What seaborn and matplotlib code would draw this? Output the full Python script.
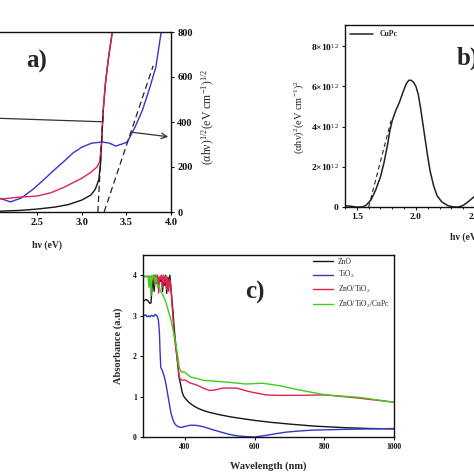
import matplotlib
matplotlib.use("Agg")
import matplotlib.pyplot as plt
import seaborn as sns
import numpy as np

# ---- panel a: Tauc plot (right axis values) ----
ev_zno = [1.5, 1.8, 2.1, 2.3, 2.5, 2.7, 2.85, 3.0, 3.1, 3.15, 3.19, 3.21, 3.24, 3.265, 3.30, 3.34, 3.36]
tauc_zno = [1, 2, 4, 7, 13, 22, 33, 53, 75, 100, 142, 215, 450, 570, 685, 795, 840]

ev_znotio2 = [1.5, 1.8, 2.1, 2.3, 2.5, 2.65, 2.8, 2.9, 3.0, 3.1, 3.17, 3.2, 3.22, 3.24, 3.265, 3.30, 3.34, 3.36]
tauc_znotio2 = [55, 56, 58, 66, 71, 85, 110, 130, 150, 176, 200, 222, 300, 455, 575, 690, 795, 840]

ev_tio2 = [1.5, 1.8, 2.0, 2.09, 2.2, 2.32, 2.45, 2.55, 2.7, 2.8, 2.9, 3.0, 3.11, 3.23, 3.31, 3.38, 3.45, 3.51, 3.6, 3.68, 3.76, 3.83, 3.89, 3.92]
tauc_tio2 = [70, 66, 63, 60, 45, 62, 100, 135, 190, 225, 262, 288, 306, 311, 306, 293, 302, 311, 380, 453, 550, 644, 800, 850]

fit1_ev = [3.18, 3.24]
fit1_val = [0, 450]
fit2_ev = [3.25, 3.80]
fit2_val = [0, 650]

arrow_line_ev = [1.5, 3.23]
arrow_line_val = [424, 401]
arrow_tail = (3.53, 356)
arrow_head = (4.0, 333)

# ---- panel b: CuPc ----
ev_cupc = [1.40, 1.45, 1.49, 1.55, 1.58, 1.62, 1.66, 1.70, 1.73, 1.76, 1.78, 1.80, 1.83, 1.86, 1.89, 1.92,
           1.94, 1.96, 1.98, 2.00, 2.02, 2.04, 2.06, 2.08, 2.10, 2.12, 2.15, 2.18, 2.22, 2.27, 2.32, 2.36,
           2.40, 2.44, 2.48, 2.52]
tauc_cupc = [0.06, 0.04, 0.0, 0.0, 0.1, 0.35, 0.85, 1.5, 2.2, 3.1, 3.8, 4.3, 4.8, 5.2, 5.7, 6.15,
             6.3, 6.3, 6.2, 6.0, 5.6, 4.9, 4.1, 3.3, 2.5, 1.8, 1.05, 0.55, 0.25, 0.07, 0.0, 0.0,
             0.08, 0.25, 0.45, 0.65]
tauc_cupc = [v * 1e12 for v in tauc_cupc]
fitb_ev = [1.60, 1.79]
fitb_val = [0, 4.3e12]

# ---- panel c: absorbance ----
nm_zno = [280, 285, 290, 295, 300, 303, 306, 309, 312, 315, 318, 321, 324, 327, 330, 333, 336, 339, 342, 345,
          348, 351, 354, 357, 360, 363, 366, 369, 372, 375, 378, 381, 384, 388, 392, 396, 400, 405, 410, 417,
          425, 440, 455, 470, 500, 530, 560, 600, 650, 700, 770, 860, 930, 1000]
abs_zno = [3.35, 3.38, 3.4, 3.36, 3.3, 3.32, 3.7, 3.9, 3.6, 3.97, 3.8, 4.0, 3.7, 3.95, 3.85, 4.0, 3.6, 3.98,
           3.75, 4.0, 3.55, 3.95, 3.8, 4.0, 3.7, 3.4, 3.1, 2.75, 2.45, 2.2, 1.95, 1.7, 1.45, 1.3, 1.12, 1.02,
           0.97, 0.92, 0.87, 0.82, 0.77, 0.7, 0.65, 0.61, 0.55, 0.5, 0.46, 0.41, 0.36, 0.32, 0.27, 0.23, 0.21, 0.2]

nm_tio2 = [280, 284, 288, 292, 296, 300, 305, 310, 315, 320, 324, 327, 329, 331, 335, 341, 346, 350, 355, 360,
           365, 370, 375, 380, 386, 392, 400, 415, 430, 445, 462, 480, 500, 525, 548, 575, 600, 633, 660, 690,
           730, 767, 862, 1000]
abs_tio2 = [3.05, 3.0, 3.02, 2.97, 3.0, 2.97, 3.01, 2.98, 3.03, 3.0, 2.9, 2.6, 2.1, 1.72, 1.65, 1.5, 1.3, 1.1,
            0.85, 0.6, 0.45, 0.34, 0.29, 0.26, 0.24, 0.24, 0.26, 0.29, 0.29, 0.27, 0.23, 0.18, 0.13, 0.07, 0.03,
            0.01, 0.0, 0.04, 0.08, 0.12, 0.15, 0.17, 0.19, 0.21]

nm_znotio2 = [280, 290, 300, 310, 313, 316, 319, 322, 325, 327, 330, 333, 336, 339, 342, 345, 348, 351, 354, 357,
              360, 363, 366, 369, 373, 377, 380, 383, 387, 393, 400, 417, 433, 455, 471, 485, 510, 548, 586, 633,
              671, 729, 805, 900, 1000]
abs_znotio2 = [3.96, 3.97, 3.96, 3.98, 3.75, 4.0, 3.85, 4.0, 3.56, 3.95, 3.9, 4.0, 3.7, 4.0, 3.8, 3.98, 3.65,
               3.95, 3.6, 3.9, 3.7, 3.3, 2.95, 2.55, 2.25, 2.0, 1.8, 1.5, 1.43, 1.4, 1.41, 1.33, 1.29, 1.2, 1.15,
               1.16, 1.21, 1.21, 1.12, 1.04, 1.03, 1.03, 1.04, 0.96, 0.86]

nm_cupc = [280, 285, 290, 294, 297, 300, 303, 306, 309, 312, 315, 318, 322, 326, 330, 335, 340, 345, 350, 355,
           360, 365, 370, 375, 380, 384, 388, 393, 400, 417, 433, 455, 471, 500, 529, 576, 624, 671, 719, 767,
           805, 900, 1000]
abs_cupc = [3.97, 3.98, 3.96, 3.99, 3.7, 3.98, 3.5, 4.0, 3.95, 4.02, 3.8, 3.95, 3.7, 3.75, 3.6, 3.55, 3.45,
            3.35, 3.2, 3.05, 2.9, 2.7, 2.5, 2.25, 1.98, 1.72, 1.64, 1.6, 1.6, 1.48, 1.45, 1.4, 1.39, 1.37, 1.35,
            1.31, 1.33, 1.27, 1.18, 1.1, 1.04, 0.98, 0.86]

legend_c = ["ZnO", "TiO$_2$", "ZnO/TiO$_2$", "ZnO/TiO$_2$/CuPc"]
col_black, col_blue, col_red, col_green = "#151515", "#3535cc", "#e2234e", "#3fcc1c"

sns.set_theme(style="ticks")
plt.rcParams["font.family"] = ["Liberation Serif", "DejaVu Serif"]
plt.rcParams["mathtext.fontset"] = "custom"
plt.rcParams["mathtext.rm"] = "Liberation Serif"
plt.rcParams["mathtext.it"] = "Liberation Serif:italic"
plt.rcParams["mathtext.bf"] = "Liberation Serif:bold"
plt.rcParams["axes.linewidth"] = 1.0
plt.rcParams["axes.edgecolor"] = "#111111"

W = 474.0
fig = plt.figure(figsize=(4.74, 4.74), dpi=100)


def frac(left, top, right, bottom):
    return [left / W, 1 - bottom / W, (right - left) / W, (bottom - top) / W]


def style_ticks(ax, size):
    ax.tick_params(direction="out", length=2.5, width=0.8, labelsize=size, pad=2, colors="#111111")
    for lab in ax.get_xticklabels() + ax.get_yticklabels():
        lab.set_fontweight("bold")


# ---------- a ----------
ax_a = fig.add_axes(frac(-52, 32, 171, 212))
sns.lineplot(x=ev_zno, y=tauc_zno, ax=ax_a, color=col_black, lw=1.0, estimator=None, sort=False)
sns.lineplot(x=ev_tio2, y=tauc_tio2, ax=ax_a, color=col_blue, lw=1.0, estimator=None, sort=False)
sns.lineplot(x=ev_znotio2, y=tauc_znotio2, ax=ax_a, color=col_red, lw=1.0, estimator=None, sort=False)
ax_a.plot(fit1_ev, fit1_val, color="#222222", lw=0.9, ls=(0, (5, 3)))
ax_a.plot(fit2_ev, fit2_val, color="#222222", lw=0.9, ls=(0, (5, 3)))
ax_a.plot(arrow_line_ev, arrow_line_val, color="#333333", lw=0.9)
ax_a.annotate("", xy=arrow_head, xytext=arrow_tail,
              arrowprops=dict(arrowstyle="->", color="#333333", lw=0.9, mutation_scale=10))
ax_a.set_xlim(1.5, 4.0)
ax_a.set_ylim(0, 800)
ax_a.yaxis.tick_right()
ax_a.set_yticks([0, 200, 400, 600, 800])
ax_a.set_xticks([2.5, 3.0, 3.5, 4.0])
ax_a.set_xticklabels(["2.5", "3.0", "3.5", "4.0"])
style_ticks(ax_a, 7.5)
fig.text(37 / W, 1 - 61 / W, "a)", fontsize=18, fontweight="bold", ha="center", va="center")
fig.text(47 / W, 1 - 245 / W, "hν (eV)", fontsize=7, fontweight="bold", ha="center", va="center")
fig.text(208 / W, 1 - 117 / W, "(αhν)$^{1/2}$(eV cm$^{-1}$)$^{1/2}$", fontsize=8.5,
         rotation=90, ha="center", va="center")

# ---------- b ----------
ax_b = fig.add_axes(frac(345, 25, 605, 207))
sns.lineplot(x=ev_cupc, y=tauc_cupc, ax=ax_b, color="#222222", lw=1.1, estimator=None, sort=False, label="CuPc")
ax_b.plot(fitb_ev, fitb_val, color="#222222", lw=0.8, ls=(0, (4, 3)))
ax_b.set_xlim(1.4, 3.6)
ax_b.set_ylim(0, 9.05e12)
ax_b.set_yticks([0, 2e12, 4e12, 6e12, 8e12])
ax_b.set_yticklabels(["0", "2×10$^{12}$", "4×10$^{12}$", "6×10$^{12}$", "8×10$^{12}$"])
ax_b.set_xticks([1.5, 2.0, 2.5, 3.0, 3.5])
ax_b.set_xticklabels(["1.5", "2.0", "2.5", "3.0", "3.5"])
ax_b.set_xticks(np.arange(1.4, 3.61, 0.1), minor=True)
ax_b.tick_params(which="minor", direction="out", length=1.5, width=0.7)
style_ticks(ax_b, 6.8)
ax_b.legend(loc="upper left", frameon=False, handlelength=3, prop={"size": 5.5, "weight": "bold"},
            borderaxespad=0.3)
ax_b.set_xlabel("")
fig.text(457 / W, 1 - 58 / W, "b)", fontsize=18, fontweight="bold", ha="left", va="center")
fig.text(450 / W, 1 - 237 / W, "hν (eV)", fontsize=7, fontweight="bold", ha="left", va="center")
fig.text(299 / W, 1 - 117 / W, "(αhν)$^2$(eV cm$^{-1}$)$^2$", fontsize=7.5,
         rotation=90, ha="center", va="center")

# ---------- c ----------
ax_c = fig.add_axes(frac(143, 255, 394, 437))
sns.lineplot(x=nm_zno, y=abs_zno, ax=ax_c, color=col_black, lw=1.0, estimator=None, sort=False, label=legend_c[0])
sns.lineplot(x=nm_tio2, y=abs_tio2, ax=ax_c, color=col_blue, lw=1.0, estimator=None, sort=False, label=legend_c[1])
sns.lineplot(x=nm_znotio2, y=abs_znotio2, ax=ax_c, color=col_red, lw=1.0, estimator=None, sort=False, label=legend_c[2])
sns.lineplot(x=nm_cupc, y=abs_cupc, ax=ax_c, color=col_green, lw=1.0, estimator=None, sort=False, label=legend_c[3])
ax_c.set_xlim(280, 1000)
ax_c.set_ylim(0, 4.5)
ax_c.set_xticks([400, 600, 800, 1000])
ax_c.set_yticks([0, 1, 2, 3, 4])
style_ticks(ax_c, 5.5)
ax_c.legend(loc="upper left", bbox_to_anchor=(0.66, 1.01), frameon=False, handlelength=2.6,
            prop={"size": 5.5}, labelspacing=0.45, borderaxespad=0.2, handletextpad=0.6)
ax_c.set_xlabel("Wavelength (nm)", fontsize=7.5, fontweight="bold", labelpad=7)
ax_c.set_ylabel("Absorbance (a.u)", fontsize=7.5, fontweight="bold", labelpad=7)
fig.text(255 / W, 1 - 292 / W, "c)", fontsize=18, fontweight="bold", ha="center", va="center")

fig.savefig("out.png", dpi=100)
